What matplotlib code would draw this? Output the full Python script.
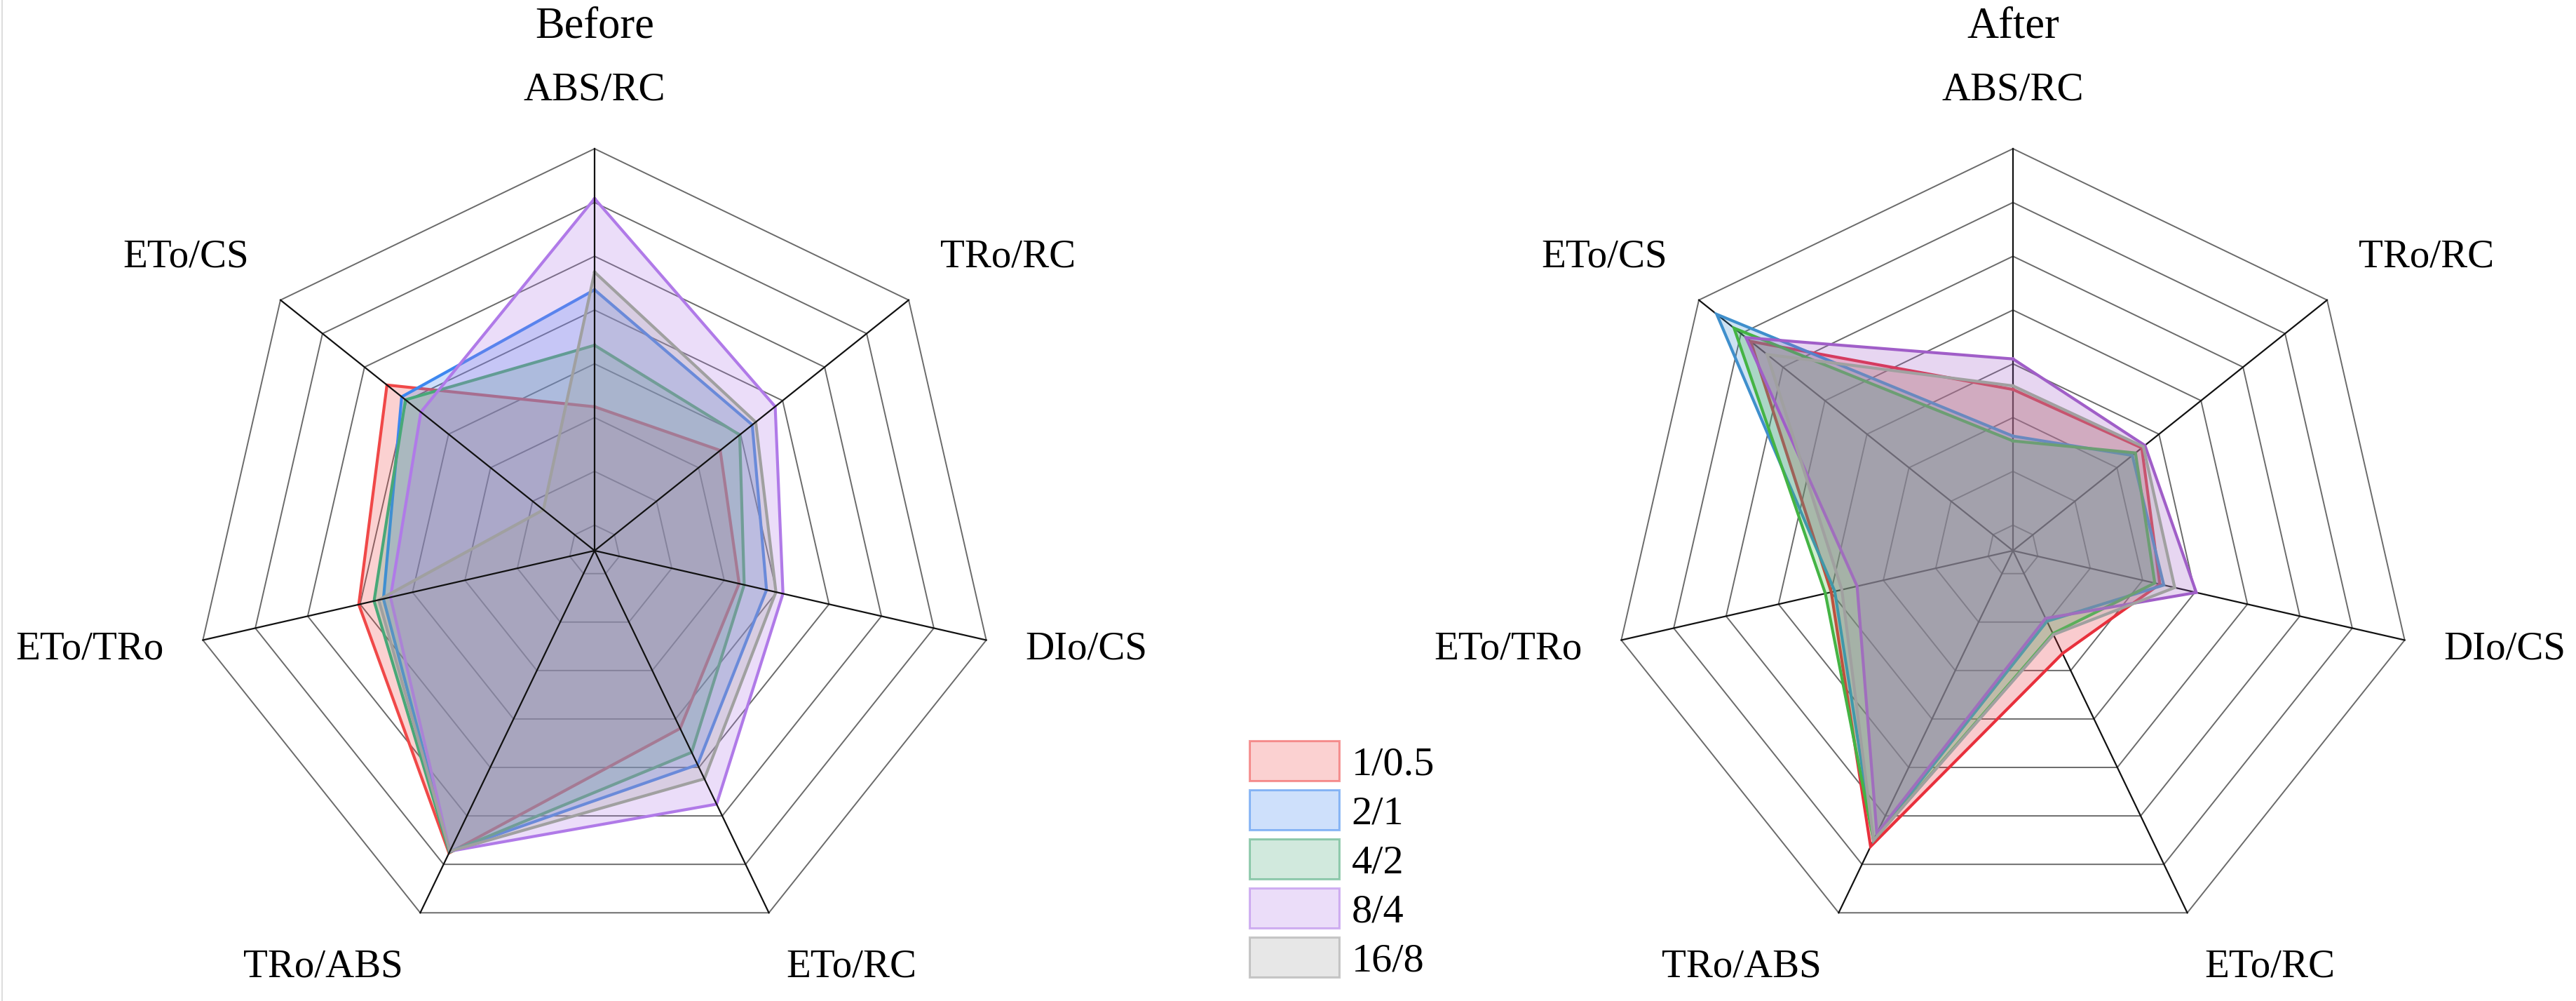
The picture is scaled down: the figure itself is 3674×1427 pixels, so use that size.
import numpy as np
import matplotlib
matplotlib.use('Agg')
import matplotlib.pyplot as plt
from matplotlib.patches import Patch
from matplotlib.colors import to_rgba
from matplotlib.lines import Line2D

plt.rcParams['font.family'] = ['Liberation Serif', 'DejaVu Serif']

# axes of the radar, clockwise from the top
axis_names = ['ABS/RC', 'TRo/RC', 'DIo/CS', 'ETo/RC', 'TRo/ABS', 'ETo/TRo', 'ETo/CS']
series_names = ['1/0.5', '2/1', '4/2', '8/4', '16/8']

# values as fraction of the outer ring
before_1_05 = [0.358, 0.400, 0.369, 0.491, 0.835, 0.602, 0.661]
before_2_1 = [0.649, 0.502, 0.439, 0.591, 0.830, 0.539, 0.614]
before_4_2 = [0.511, 0.462, 0.382, 0.557, 0.833, 0.563, 0.602]
before_8_4 = [0.876, 0.575, 0.481, 0.700, 0.830, 0.521, 0.553]
before_16_8 = [0.693, 0.513, 0.463, 0.630, 0.830, 0.551, 0.163]

after_1_05 = [0.401, 0.410, 0.375, 0.284, 0.817, 0.464, 0.835]
after_2_1 = [0.285, 0.380, 0.385, 0.195, 0.800, 0.455, 0.943]
after_4_2 = [0.273, 0.390, 0.362, 0.229, 0.800, 0.479, 0.888]
after_8_4 = [0.477, 0.420, 0.468, 0.187, 0.781, 0.398, 0.850]
after_16_8 = [0.410, 0.415, 0.413, 0.232, 0.800, 0.437, 0.783]

before = [before_1_05, before_2_1, before_4_2, before_8_4, before_16_8]
after = [after_1_05, after_2_1, after_4_2, after_8_4, after_16_8]

colors_before = ['#f04848', '#3d87f0', '#48a878', '#b07ae8', '#a0a0a0']
colors_after = ['#e8303c', '#3f8fcc', '#44b444', '#a05ec8', '#a0a0a0']

W, H = 3674, 1427
R = 573.0          # outer ring radius in px
CY = 785.0         # centre, px from top
ring_levels = 1 - 0.1338 * np.arange(8)
theta = np.pi / 2 - 2 * np.pi * np.arange(len(axis_names)) / len(axis_names)

fig = plt.figure(figsize=(W / 100, H / 100), dpi=100)


def radar(cx, data, colors, title, spokes_top):
    ax = fig.add_axes([(cx - H / 2) / W, 0, H / W, 1])
    ax.set_xlim(-H / 2 / R, H / 2 / R)
    ax.set_ylim(-(H - CY) / R, CY / R)
    ax.set_aspect('equal')
    ax.axis('off')

    closed = np.r_[theta, theta[0]]
    for lv in ring_levels:
        ax.plot(lv * np.cos(closed), lv * np.sin(closed), color='#6a6a6a', lw=1.4, zorder=1)
    for t in theta:
        ax.plot([0, np.cos(t)], [0, np.sin(t)], color='#111111', lw=1.6,
                zorder=30 if spokes_top else 1.5)

    for i, (vals, c) in enumerate(zip(data, colors)):
        v = np.r_[vals, vals[0]]
        x, y = v * np.cos(closed), v * np.sin(closed)
        ax.fill(x, y, color=c, alpha=0.25, lw=0, zorder=2 + 2 * i)
        ax.plot(x, y, color=c, lw=3.0, zorder=3 + 2 * i, solid_joinstyle='miter')

    for name, t in zip(axis_names, theta):
        c, s = np.cos(t), np.sin(t)
        ha = 'left' if c > 0.1 else ('right' if c < -0.1 else 'center')
        va = 'bottom' if s > 0.5 else ('top' if s < -0.5 else 'center')
        ax.text(1.10 * c, 1.10 * s, name, ha=ha, va=va, fontsize=41, clip_on=False)

    fig.text(cx / W, 1 - 54 / H, title, ha='center', va='baseline', fontsize=45)


radar(848, before, colors_before, 'Before', True)
radar(2871, after, colors_after, 'After', False)

handles = [Patch(facecolor=to_rgba(c, 0.25), edgecolor=to_rgba(c, 0.55), lw=2.2)
           for c in colors_before]
fig.legend(handles, series_names, loc='upper left',
           bbox_to_anchor=(1782 / W, 1 - 1056 / H), frameon=False, fontsize=42,
           handlelength=2.2, handleheight=1.12, labelspacing=0.17,
           handletextpad=0.3, borderpad=0, borderaxespad=0)

fig.add_artist(Line2D([0.0008, 0.0008], [0, 1], transform=fig.transFigure,
                      color='#dddddd', lw=1.5))

fig.savefig('out.png', dpi=100)
